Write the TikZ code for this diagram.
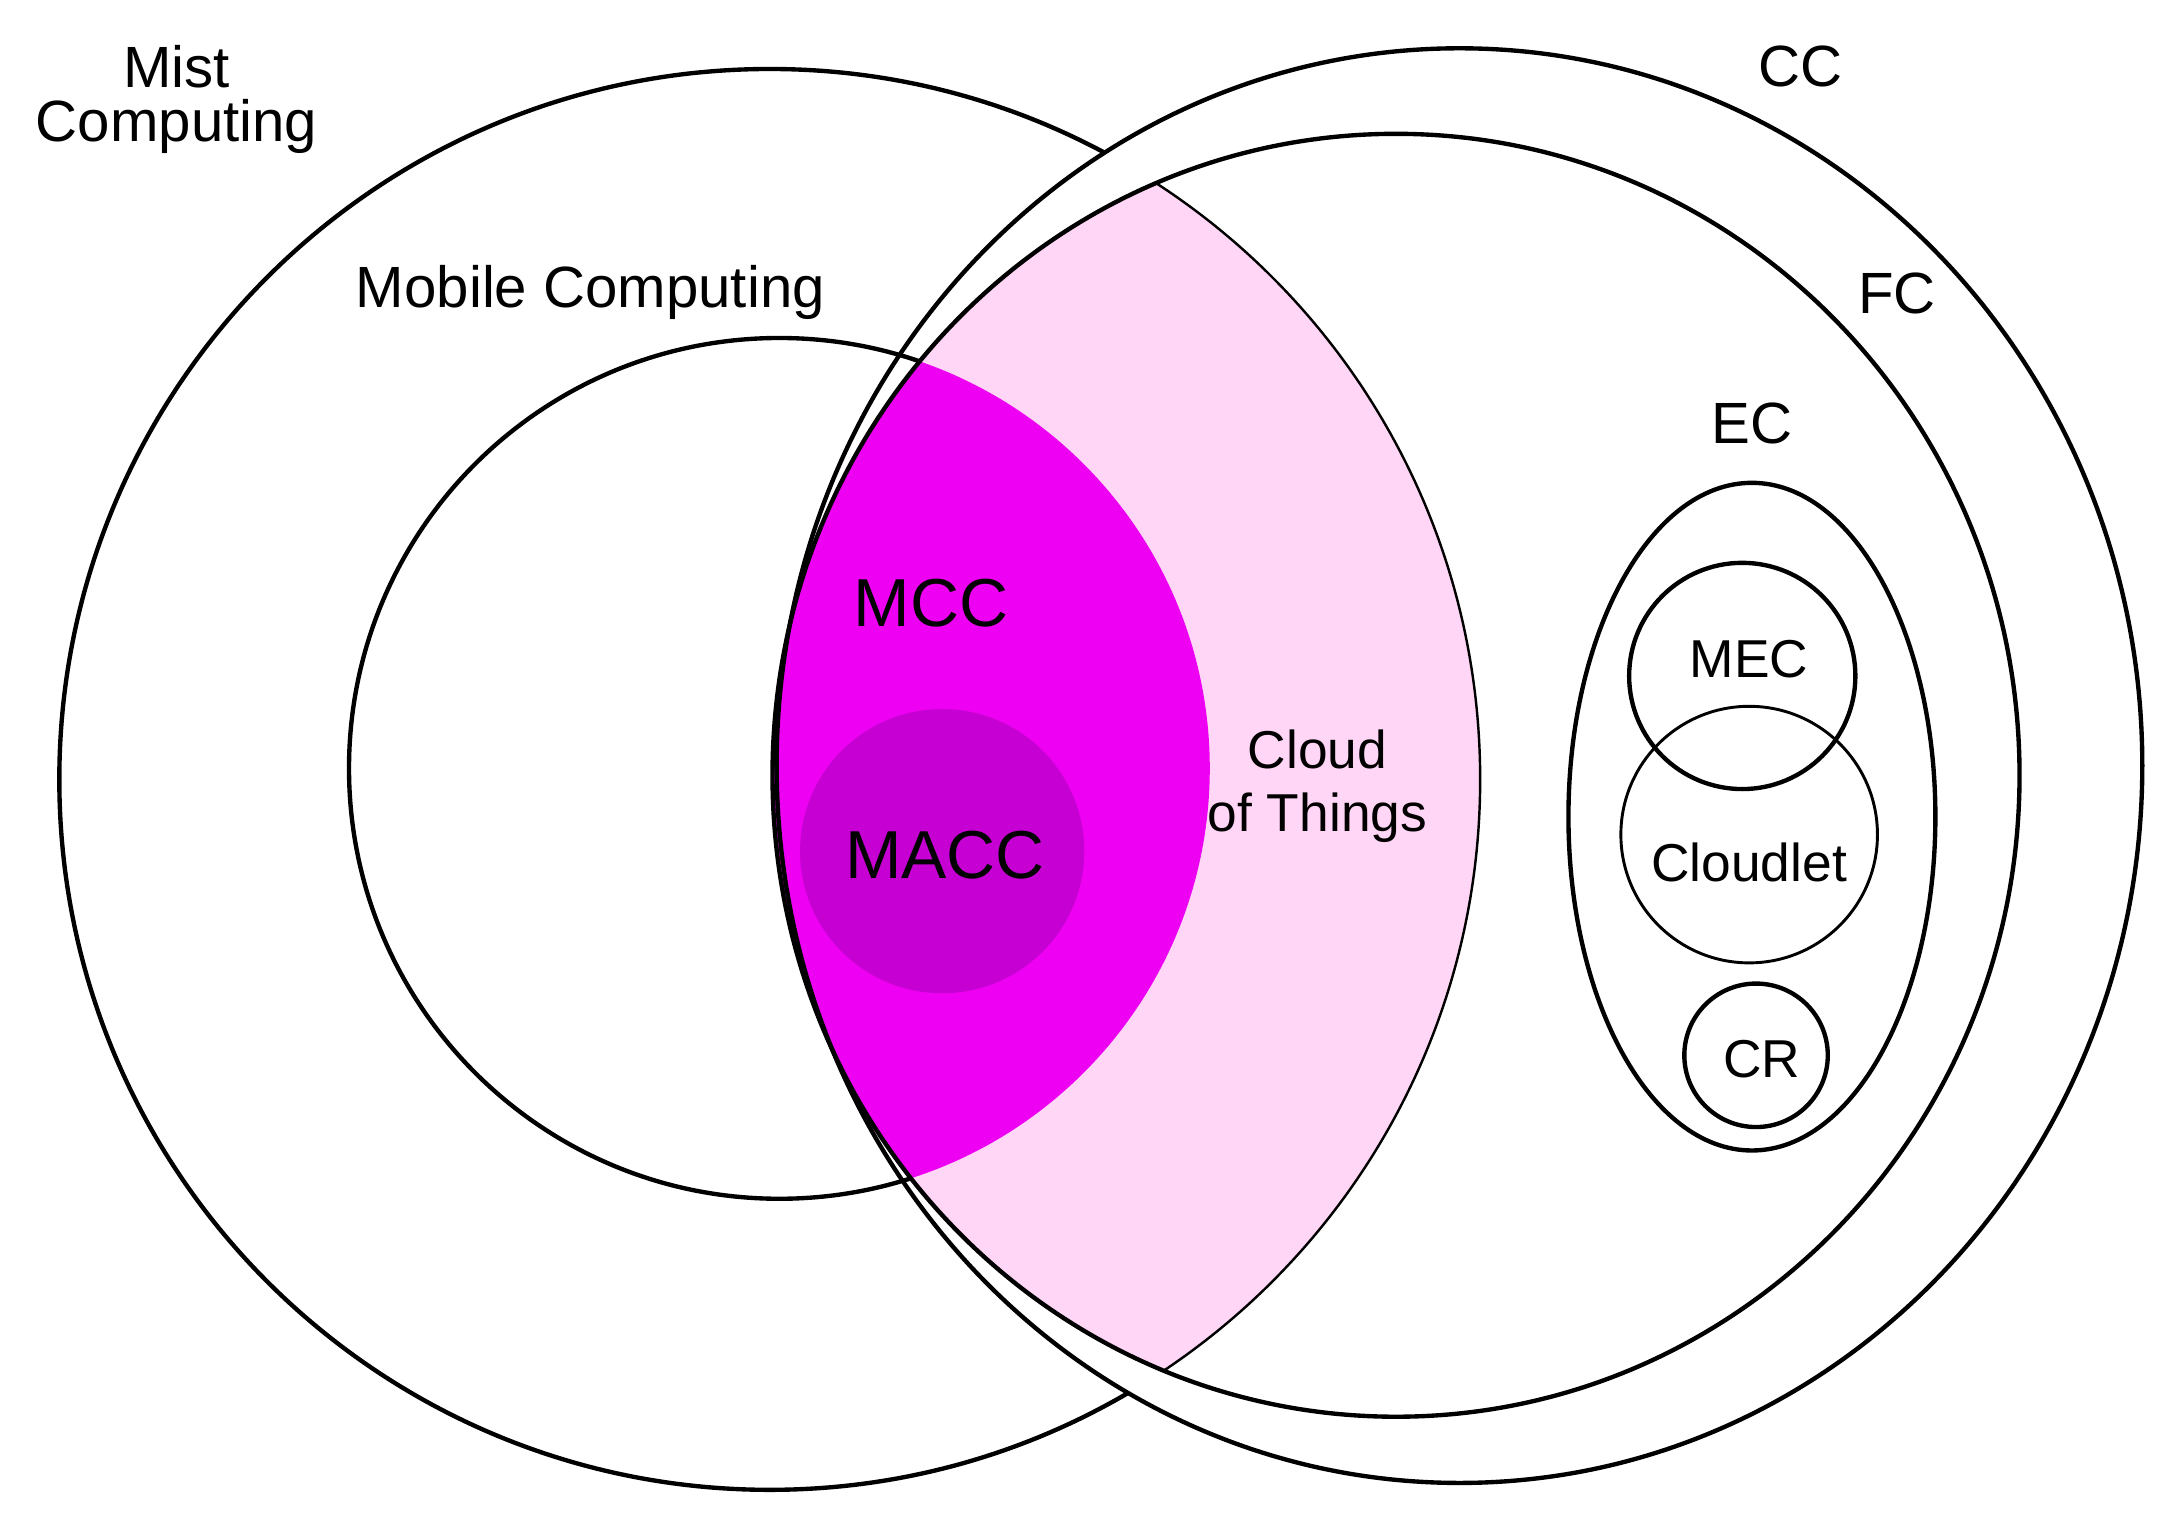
\documentclass[tikz,border=0pt]{standalone}
\usepackage{fontspec}
\setmainfont{Liberation Sans}
\definecolor{pinkl}{HTML}{FFD6F6}
\definecolor{mag}{HTML}{EE00F2}
\definecolor{dmag}{HTML}{C600D2}
\begin{document}
\begin{tikzpicture}[x=0.1mm,y=-0.1mm,line width=0.9pt,
  lbl/.style={font=\fontsize{12}{14}\selectfont,align=center}]
\useasboundingbox (0,0) rectangle (1568,1104);
% fills
\begin{scope}
\clip (1012,562) ellipse (452 and 465);
\fill[pinkl] (558,565) circle (515);
\fill[mag] (565,557) circle (312);
\end{scope}
\fill[dmag] (683,617) circle (103);
% outlines
\begin{scope}[even odd rule]
\clip (0,0) rectangle (1568,1104) (1058,555) ellipse (495 and 520);
\draw (558,565) circle (515);
\end{scope}
\begin{scope}
\clip (1012,562) ellipse (452 and 465);
\clip (720,0) rectangle (1568,1104);
\draw[line width=0.5pt] (558,565) circle (515);
\end{scope}
\begin{scope}[even odd rule]
\clip (0,0) rectangle (1568,1104) (1012,562) ellipse (452 and 465);
\draw (565,557) circle (312);
\end{scope}
\draw (1058,555) ellipse (495 and 520);
\draw (1012,562) ellipse (452 and 465);
\draw (1270,592) ellipse (133 and 242);
\draw (1263,490) circle (82);
\draw[line width=0.6pt] (1268,605) circle (93);
\draw (1273,765) circle (52);
% labels
\node[lbl] (mist) at (128,72) {Mist\\[-3pt]Computing};
\node[lbl] (mob) at (428,212) {Mobile Computing};
\node[lbl] (cc) at (1305,48) {CC};
\node[lbl] (fc) at (1375,213) {FC};
\node[lbl] (ec) at (1270,307) {EC};
\node[lbl,font=\fontsize{14}{16}\selectfont] (mcc) at (675,437) {MCC};
\node[lbl,font=\fontsize{14}{16}\selectfont] (macc) at (685,620) {MACC};
\node[lbl,font=\fontsize{11}{13}\selectfont] (cot) at (955,570) {Cloud\\of Things};
\node[lbl,font=\fontsize{11}{13}\selectfont] (mec) at (1268,478) {MEC};
\node[lbl,font=\fontsize{11}{13}\selectfont] (cl) at (1268,625) {Cloudlet};
\node[lbl,font=\fontsize{11}{13}\selectfont] (cr) at (1277,768) {CR};
\end{tikzpicture}
\end{document}
